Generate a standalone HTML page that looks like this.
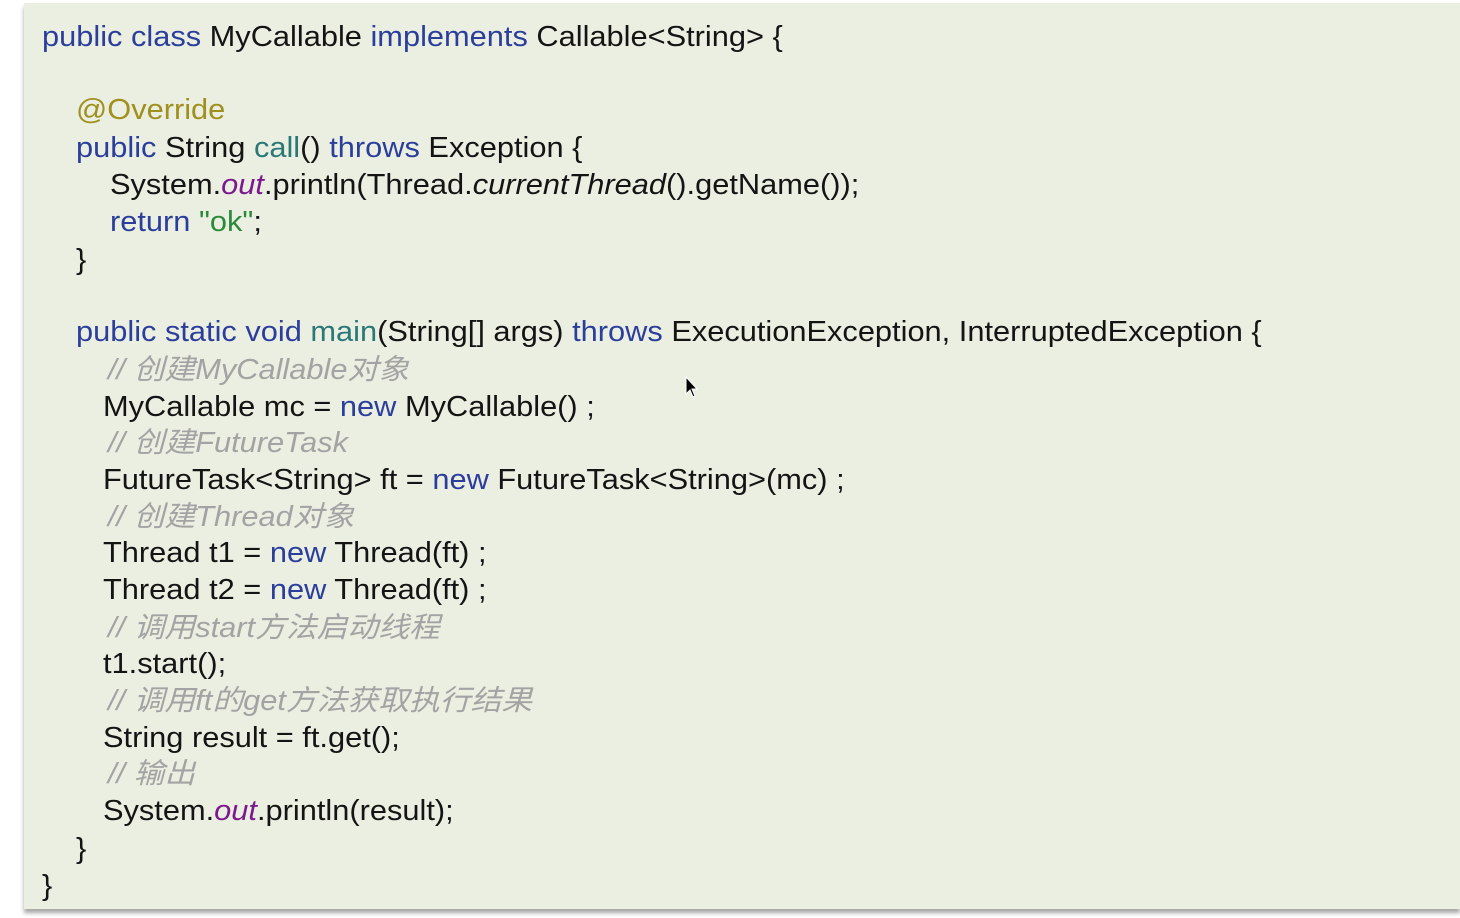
<!DOCTYPE html>
<html><head><meta charset="utf-8"><style>
body{margin:0;width:1460px;height:918px;background:#fff;overflow:hidden;position:relative;font-family:"Liberation Sans","Noto Sans CJK SC",sans-serif;}
.box{position:absolute;left:24px;top:3px;width:1436px;height:906px;background:#ebefe1;box-shadow:0 4px 4px rgba(0,0,0,.35);}
.l{position:absolute;font-size:28.5px;line-height:32px;white-space:pre;color:#141414;transform-origin:0 50%;transform:translateY(-15px) scaleX(1.08);}
.k{color:#2b3e9c}.t{color:#2a7878}.a{color:#a0901e}.o{color:#7b1a8c;font-style:italic}.s{color:#2a8a3a}
.c{color:#a3a3a3;font-style:italic}.i{font-style:italic}
</style></head><body>
<div class="box"></div>
<div class="l" style="left:42px;top:36px"><span class="k">public class</span> MyCallable <span class="k">implements</span> Callable&lt;String&gt; {</div>
<div class="l a" style="left:76px;top:109px">@Override</div>
<div class="l" style="left:76px;top:147px"><span class="k">public</span> String <span class="t">call</span>() <span class="k">throws</span> Exception {</div>
<div class="l" style="left:110px;top:184px">System.<span class="o">out</span>.println(Thread.<span class="i">currentThread</span>().getName());</div>
<div class="l" style="left:110px;top:221px"><span class="k">return</span> <span class="s">"ok"</span>;</div>
<div class="l" style="left:76px;top:259px">}</div>
<div class="l" style="left:76px;top:331px"><span class="k">public static void</span> <span class="t">main</span>(String[] args) <span class="k">throws</span> ExecutionException, InterruptedException {</div>
<div class="l c" style="left:108px;top:369px">// 创建MyCallable对象</div>
<div class="l" style="left:103px;top:406px">MyCallable mc = <span class="k">new</span> MyCallable() ;</div>
<div class="l c" style="left:108px;top:442px">// 创建FutureTask</div>
<div class="l" style="left:103px;top:479px">FutureTask&lt;String&gt; ft = <span class="k">new</span> FutureTask&lt;String&gt;(mc) ;</div>
<div class="l c" style="left:108px;top:516px">// 创建Thread对象</div>
<div class="l" style="left:103px;top:552px">Thread t1 = <span class="k">new</span> Thread(ft) ;</div>
<div class="l" style="left:103px;top:589px">Thread t2 = <span class="k">new</span> Thread(ft) ;</div>
<div class="l c" style="left:108px;top:627px">// 调用start方法启动线程</div>
<div class="l" style="left:103px;top:663px">t1.start();</div>
<div class="l c" style="left:108px;top:700px">// 调用ft的get方法获取执行结果</div>
<div class="l" style="left:103px;top:737px">String result = ft.get();</div>
<div class="l c" style="left:108px;top:773px">// 输出</div>
<div class="l" style="left:103px;top:810px">System.<span class="o">out</span>.println(result);</div>
<div class="l" style="left:76px;top:848px">}</div>
<div class="l" style="left:42px;top:885px">}</div>
<svg style="position:absolute;left:685px;top:376px" width="14" height="24"><path d="M1 1 L1 18 L5 14 L8 21 L10 20 L7 13 L12 13 Z" fill="#000" stroke="#fff" stroke-width="1"/></svg>
</body></html>
